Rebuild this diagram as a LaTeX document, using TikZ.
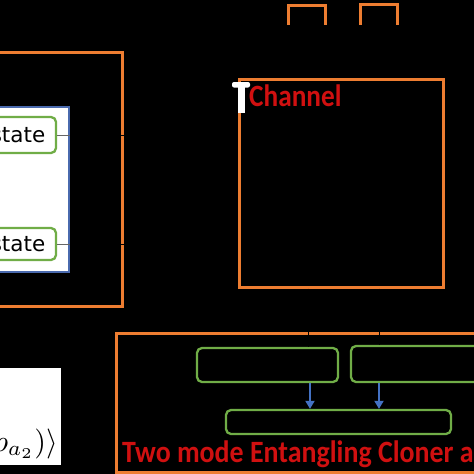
\documentclass[tikz,border=0pt]{standalone}
\usepackage{fontspec}
\usepackage{graphicx}
\newfontfamily\carlito{Carlito}
\newfontfamily\dejavu{DejaVu Sans}
\definecolor{frameorange}{HTML}{ED7D31}
\definecolor{boxgreen}{HTML}{70AD47}
\definecolor{arrowblue}{HTML}{4472C4}
\definecolor{borderblue}{HTML}{4A6AAE}
\definecolor{labelred}{HTML}{D01010}
\usetikzlibrary{arrows.meta}
\tikzset{
  frame/.style={draw=frameorange, line width=3pt, inner sep=0pt},
  gbox/.style={draw=boxgreen, line width=2.3pt, rounded corners=5pt, inner sep=0pt},
  wire/.style={draw=black!60, line width=0.8pt},
  darkwire/.style={draw=black, line width=1pt},
  barrow/.style={draw=arrowblue, line width=1.8pt, -{Triangle[width=9pt,length=8pt]}},
  redlabel/.style={text=labelred, font=\carlito\bfseries\fontsize{31}{31}\selectfont, inner sep=0pt},
  statetext/.style={font=\dejavu\fontsize{21.5}{21.5}\selectfont, text=black}
}
\begin{document}
\begin{tikzpicture}[x=1pt,y=-1pt]
\useasboundingbox (0,0) rectangle (474,474);
\clip (0,0) rectangle (474,474);
\fill[black] (0,0) rectangle (474,474);
% left frame and white box
\node[frame, minimum width=132pt, minimum height=254pt] (leftframe) at (56,179) {};
\node[draw=borderblue, line width=2.2pt, fill=white, minimum width=79pt, minimum height=165pt, inner sep=0pt] (whitebox) at (29.5,189.5) {};
\node[gbox, fill=white, minimum width=76pt, minimum height=36pt, statetext] (state1) at (18,135) {state\hspace{7pt}};
\node[gbox, fill=white, minimum width=76pt, minimum height=32pt, statetext] (state2) at (18,244) {state\hspace{7pt}};
% channel
\node[frame, minimum width=204pt, minimum height=208pt] (channel) at (341,183) {};
\node[redlabel, anchor=base west] (chlabel) at (249,106) {\scalebox{0.88}[1]{Channel}};
% white marker
\fill[white, rounded corners=2pt] (232,82) rectangle (250,87.5);
\fill[white] (238,82) rectangle (244.5,113);
% top brackets
\coordinate (b1l) at (288,25);
\coordinate (b1r) at (325,25);
\coordinate (b2l) at (360,25);
\coordinate (b2r) at (397,25);
\draw[frameorange, line width=3pt] (b1l) -- (288,5) -- (325,5) -- (b1r);
\draw[frameorange, line width=3pt] (b2l) -- (360,4.5) -- (397,4.5) -- (b2r);
\coordinate (v1) at (308,0);
\coordinate (v2) at (379,0);
% bottom frame
\node[frame, minimum width=374pt, minimum height=139pt] (bottomframe) at (303,402.5) {};
\node[gbox, minimum width=141pt, minimum height=34pt] (boxA) at (267.5,365) {};
\node[gbox, minimum width=149pt, minimum height=36pt] (boxB) at (425.5,364) {};
\node[gbox, minimum width=225pt, minimum height=24pt] (boxC) at (338.5,422) {};
\node[redlabel, anchor=base west] (cloner) at (122,462) {\scalebox{0.9}[1]{Two mode Entangling Cloner a}};
% math box
\node[fill=white, minimum width=71pt, minimum height=97pt, inner sep=0pt] (mathbox) at (25.5,416.5) {};
\node[anchor=base east, inner sep=0pt] (mathtext) at (58,451) {\scalebox{3.0}{$\rho_{a_2})\rangle$}};
% connectors
\draw[wire] (state1.east) -- (whitebox.east |- state1.east);
\draw[wire] (state2.east) -- (whitebox.east |- state2.east);
\draw[darkwire] (whitebox.east |- state1.east) -- (channel.west |- state1.east);
\draw[darkwire] (whitebox.east |- state2.east) -- (channel.west |- state2.east);
\draw[darkwire] (b1l -| v1) -- (channel.north -| v1);
\draw[darkwire] (b2l -| v2) -- (channel.north -| v2);
\draw[darkwire] (channel.south -| v1) -- (boxA.north -| v1);
\draw[darkwire] (channel.south -| v2) -- (boxB.north -| v2);
\coordinate (a1) at (310,0);
\coordinate (a2) at (379,0);
\draw[barrow] (boxA.south -| a1) -- (boxC.north -| a1);
\draw[barrow] (boxB.south -| a2) -- (boxC.north -| a2);
\end{tikzpicture}
\end{document}
